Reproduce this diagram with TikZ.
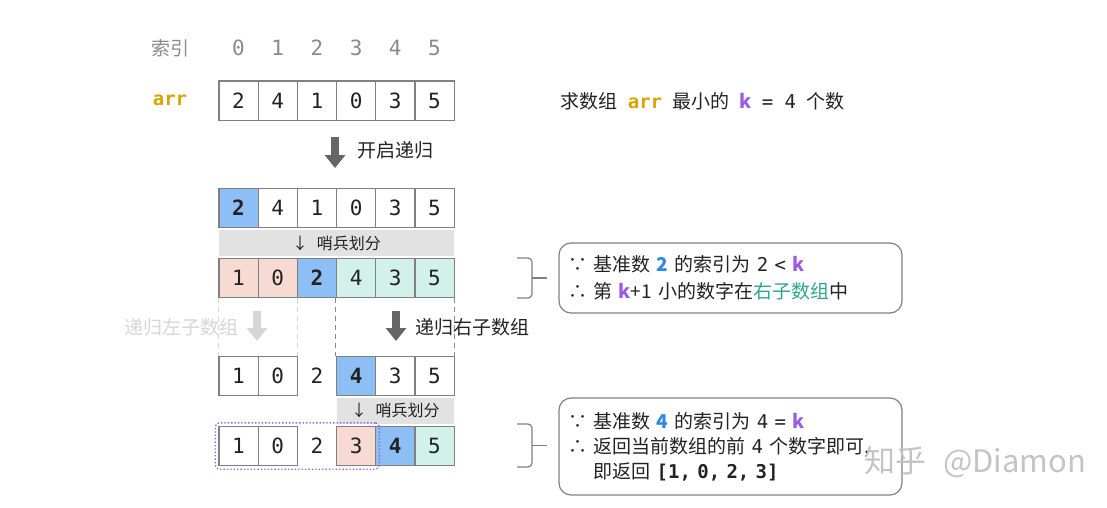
\documentclass[tikz,border=0pt]{standalone}
\usepackage{fontspec}
\setmainfont{Noto Sans CJK SC}[WordSpace=2.4]
\setmonofont{DejaVu Sans Mono}
\usetikzlibrary{%
  arrows.meta,%
  positioning,%
  fit,%
  calc%
}
\definecolor{cellline}{HTML}{808080}
\definecolor{bluec}{HTML}{8DBEF5}
\definecolor{pinkc}{HTML}{F7DAD2}
\definecolor{tealc}{HTML}{D2F1EA}
\definecolor{bandc}{HTML}{E2E2E2}
\definecolor{arrgold}{HTML}{D9A400}
\definecolor{kpurple}{HTML}{9A5CE6}
\definecolor{numblue}{HTML}{2F88E0}
\definecolor{tealtxt}{HTML}{2FA58E}
\definecolor{arrowgray}{HTML}{666666}
\definecolor{palegray}{HTML}{D6D6D6}
\definecolor{idxgray}{HTML}{8A8A8A}
\definecolor{inkc}{HTML}{222222}
\definecolor{dotpurple}{HTML}{9466E0}
\definecolor{wmgray}{HTML}{C4C4C4}

\begin{document}
\begin{tikzpicture}[
  x=1pt, y=-1pt, line width=1.2pt, text=inkc,
  cell/.style={draw=cellline, minimum width=39.2pt, minimum height=39.2pt,
    inner sep=0pt, font=\ttfamily\fontsize{21}{21}\selectfont},
  band/.style={fill=bandc, inner sep=0pt, minimum height=26pt,
    font=\fontsize{16}{16}\selectfont},
  bigdown/.style={draw=arrowgray, line width=8pt,
    -{Triangle[width=20pt,length=13pt]}},
  note/.style={draw=cellline, rounded corners=12pt, minimum width=343pt,
    text width=325pt, inner xsep=9pt, inner ysep=0pt, align=left},
  lbl/.style={inner sep=0pt, font=\fontsize{19}{19}\selectfont},
  cut/.style={dashed, dash pattern=on 5pt off 4pt, line width=1pt}
]
\useasboundingbox (0,0) rectangle (1107,507);

% header
\node[lbl, text=idxgray] (idx) at (170,48) {索引};
\foreach \x in {0,...,5} {
  \node[text=idxgray, inner sep=0pt, font=\ttfamily\fontsize{21}{21}\selectfont]
    (i\x) at ({238.5+39.2*\x},48) {\x};
}
\node[lbl, text=arrgold, font=\ttfamily\bfseries\fontsize{19}{19}\selectfont]
  (arr) at (170,100) {arr};
\node[lbl, anchor=west] (task) at (560,101)
  {求数组 {\ttfamily\bfseries\color{arrgold}arr} 最小的 {\bfseries\color{kpurple}k} {\ttfamily = 4} 个数};

% rows
\foreach \v [count=\i from 0] in {2,4,1,0,3,5} {
  \node[cell] (a\i) at ({238.5+39.2*\i},100.5) {\v};
}
\coordinate (go0) at (335,137);
\coordinate (go1) at (335,168);
\draw[bigdown] (go0) -- (go1);
\node[lbl, anchor=west] (go) at (357,150) {开启递归};

\foreach \v/\f [count=\i from 0] in {\textbf{2}/bluec,4/white,1/white,0/white,3/white,5/white} {
  \node[cell, fill=\f] (b\i) at ({238.5+39.2*\i},208) {\v};
}
\node[band, minimum width=235.2pt] (split1) at (336.5,243) {↓\ 哨兵划分};

\foreach \v/\f [count=\i from 0] in {1/pinkc,0/pinkc,\textbf{2}/bluec,4/tealc,3/tealc,5/tealc} {
  \node[cell, fill=\f] (c\i) at ({238.5+39.2*\i},278) {\v};
}

\foreach \v/\f/\d [count=\i from 0] in {1/white/cellline,0/white/cellline,2/none/none,\textbf{4}/bluec/cellline,3/white/cellline,5/white/cellline} {
  \node[cell, fill=\f, draw=\d] (d\i) at ({238.5+39.2*\i},376) {\v};
}
\node[band, minimum width=117.6pt] (split2) at (395.3,410.5) {↓\ 哨兵划分};

\foreach \v/\f/\d [count=\i from 0] in {1/white/cellline,0/white/cellline,2/none/none,3/pinkc/cellline,\textbf{4}/bluec/cellline,5/tealc/cellline} {
  \node[cell, fill=\f, draw=\d] (e\i) at ({238.5+39.2*\i},446) {\v};
}
\node[fit=(e0)(e3), draw=dotpurple, dotted, line width=1.4pt,
  rounded corners=4pt, inner sep=3pt] (keep) {};

% sub arrays
\draw[cut, draw=palegray] (c0.south west) -- (d0.north west);
\draw[cut, draw=palegray] (c1.south east) -- (d1.north east);
\draw[cut, draw=idxgray] (c3.south west) -- (d3.north west);
\draw[cut, draw=idxgray] (c5.south east) -- (d5.north east);

\coordinate (l0) at (257,311);
\coordinate (l1) at (257,341);
\draw[bigdown, draw=palegray] (l0) -- (l1);
\node[lbl, anchor=east, text=palegray] (left) at (239,327) {递归左子数组};
\coordinate (r0) at (396,311);
\coordinate (r1) at (396,341);
\draw[bigdown] (r0) -- (r1);
\node[lbl, anchor=west] (right) at (415,327) {递归右子数组};

% notes
\node[note, minimum height=70pt, font=\fontsize{19}{27}\selectfont] (note1) at (730.5,278)
  {∵\ 基准数 {\bfseries\color{numblue}2} 的索引为 {\ttfamily 2 <} {\bfseries\color{kpurple}k}\\
   ∴\ 第 {\bfseries\color{kpurple}k}+1 小的数字在{\color{tealtxt}右子数组}中};
\draw[draw=cellline, rounded corners=4pt] (517,258) -- (532,258) -- (532,298) -- (517,298);
\draw[draw=cellline] (532,278) -- (547,278);

\node[note, minimum height=97pt, font=\fontsize{19}{25}\selectfont] (note2) at (730.5,446.5)
  {∵\ 基准数 {\bfseries\color{numblue}4} 的索引为 {\ttfamily 4 =} {\bfseries\color{kpurple}k}\\
   ∴\ 返回当前数组的前 {\ttfamily 4} 个数字即可,\\
   \phantom{∴}\ 即返回 {\ttfamily\bfseries [1, 0, 2, 3]}};
\draw[draw=cellline, rounded corners=4pt] (517,424) -- (532,424) -- (532,467) -- (517,467);
\draw[draw=cellline] (532,445.5) -- (547,445.5);

\node[anchor=west, inner sep=0pt, text=wmgray, font=\fontsize{31}{31}\selectfont]
  (mark) at (864,462) {知乎 @Diamon};
\end{tikzpicture}
\end{document}
